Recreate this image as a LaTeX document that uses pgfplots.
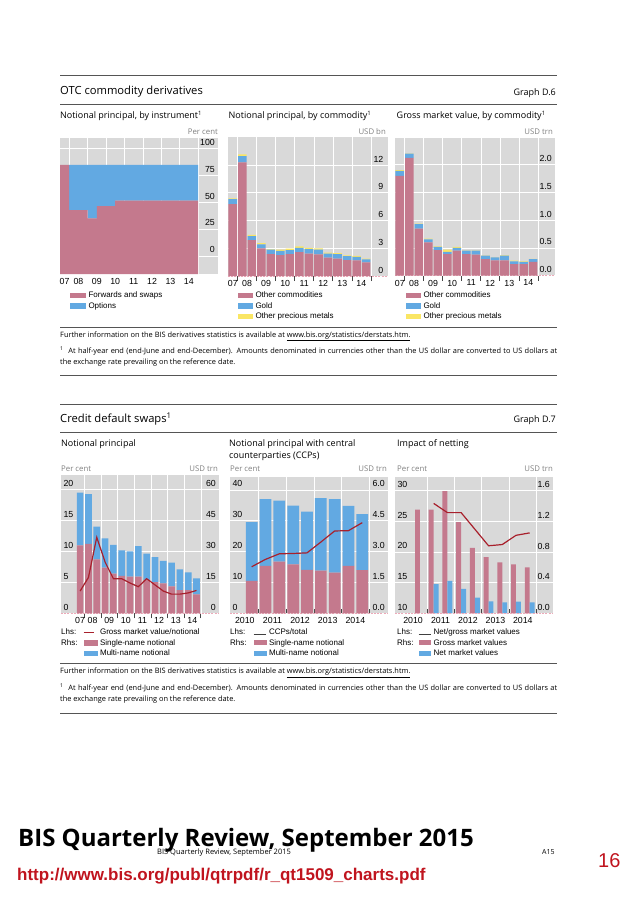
\documentclass[border=0pt]{standalone}
\usepackage{pgfplots}
\pgfplotsset{compat=1.18}
\usepackage{pgfplotstable}
\usepackage{fontspec}
\setmainfont{Open Sans}
\newfontfamily\arial{Liberation Sans}

\definecolor{bisred}{RGB}{196,121,141}
\definecolor{bisblue}{RGB}{98,169,226}
\definecolor{bisyellow}{RGB}{250,230,100}
\definecolor{bggrey}{RGB}{217,217,217}
\definecolor{linered}{RGB}{168,32,44}
\definecolor{legdark}{RGB}{64,64,64}
\definecolor{rulegrey}{RGB}{85,85,85}
\definecolor{unitgrey}{RGB}{128,128,128}
\definecolor{zeropink}{RGB}{236,170,185}
\definecolor{tickgrey}{RGB}{70,70,70}
\definecolor{footred}{RGB}{192,20,30}

\newcommand\tickfont{\arial\fontsize{8.8}{10}\selectfont}
\newcommand\legfont{\arial\fontsize{8}{9}\selectfont}
\newcommand\unitfont{\fontsize{7.8}{9}\selectfont\color{unitgrey}}
\newcommand\subfont{\fontsize{9}{11}\selectfont}
\newcommand\titlefont{\fontsize{11.2}{13}\selectfont}
\newcommand\notefont{\fontsize{7.4}{9}\selectfont}

% half-yearly, 2007 H2 .. 2014 H2 (x = 0..14)
\pgfplotstableread{
x fwd opt
0 84.3 0
1 42.6 41.7
2 42.6 41.7
3 34.9 49.4
4 46.3 38.0
5 46.3 38.0
6 51.2 33.1
7 51.2 33.1
8 51.2 33.1
9 51.2 33.1
10 51.2 33.1
11 51.2 33.1
12 51.2 33.1
13 51.2 33.1
14 51.2 33.1
}\tabInstr

\pgfplotstableread{
x other gold prec
0 7.76 0.54 0.10
1 12.30 0.67 0.18
2 3.88 0.43 0.15
3 2.98 0.43 0.15
4 2.37 0.47 0.07
5 2.26 0.47 0.11
6 2.37 0.43 0.15
7 2.59 0.46 0.15
8 2.41 0.50 0.14
9 2.34 0.50 0.14
10 1.98 0.43 0.11
11 1.87 0.50 0.11
12 1.72 0.44 0.07
13 1.69 0.39 0.11
14 1.47 0.33 0.07
}\tabNotional

\pgfplotstableread{
x other gold prec
0 1.80 0.09 0.01
1 2.12 0.08 0.005
2 0.85 0.08 0.01
3 0.60 0.055 0.015
4 0.46 0.06 0.01
5 0.39 0.04 0.04
6 0.45 0.05 0.02
7 0.39 0.06 0.005
8 0.38 0.07 0.005
9 0.30 0.06 0.005
10 0.275 0.055 0.005
11 0.275 0.085 0.01
12 0.21 0.05 0.01
13 0.21 0.04 0.01
14 0.25 0.05 0.005
}\tabGross

\pgfplotstableread{
x single multi ratio
0 32.9 25.6 3.6
1 33.7 24.1 5.8
2 26.2 15.8 12.3
3 22.2 14.2 8.3
4 19.2 14.0 5.6
5 18.2 12.3 5.6
6 17.8 12.2 4.9
7 17.8 14.8 4.3
8 16.2 12.8 5.6
9 15.1 12.1 4.6
10 14.5 11.0 3.6
11 13.1 11.5 3.1
12 11.3 10.0 3.1
13 11.3 8.6 3.3
14 9.2 7.7 3.7
}\tabCDS

% 2010 H2 .. 2014 H2 (x = 0..8)
\pgfplotstableread{
x single multi ccp
0 1.58 2.85 15.1
1 2.31 3.25 17.5
2 2.52 2.96 19.3
3 2.38 2.86 19.4
4 2.11 2.84 19.6
5 2.08 3.52 23.1
6 1.98 3.57 26.7
7 2.31 2.91 26.8
8 2.10 2.73 29.4
}\tabCCP

\pgfplotstableread{
x gross
0 1.355
1 1.355
2 1.595
3 1.19
4 0.855
5 0.735
6 0.665
7 0.64
8 0.60
}\tabGrossMV

\pgfplotstableread{
x net ratio
1 0.38 27.9
2 0.425 26.4
3 0.32 26.4
4 0.204 23.7
5 0.155 21.0
6 0.143 21.2
7 0.152 22.7
8 0.143 23.1
}\tabNet

\pgfplotsset{
  bis/.style={
    scale only axis, anchor=south west, clip=false,
    axis background/.style={fill=bggrey},
    axis line style={draw=none},
    major tick length=0pt,
    xtick pos=bottom, ytick pos=right,
    ymajorgrids, major grid style={white, line width=0.6pt},
    xminorgrids, minor grid style={white, line width=0.4pt},
    every minor tick/.style={draw=tickgrey, line width=0.6pt},
    tick align=outside,
    ticklabel style={font=\tickfont, inner sep=0pt},
    xticklabel style={anchor=north, yshift=-4pt},
    /pgf/number format/assume math mode=true,
    legend cell align=left,
    legend style={draw=none, fill=none, inner sep=0pt, outer sep=0pt,
      at={(0,0)}, anchor=north west, row sep=3pt,
      nodes={inner sep=0pt, text height=6pt, text depth=1.7pt, font=\legfont},
      /tikz/every odd column/.append style={column sep=2.5pt}},
  },
  overlay/.style={
    scale only axis, anchor=south west, clip=false,
    axis line style={draw=none}, major tick length=0pt,
    xtick=\empty, ytick pos=left,
    ticklabel style={font=\tickfont, inner sep=0pt},
    yticklabel style={anchor=base west, xshift=2.3pt, yshift=3pt},
    /pgf/number format/assume math mode=true,
  },
  rlabels/.style={yticklabel pos=right,
    yticklabel style={anchor=base east, xshift=-#1, yshift=3pt}},
  barleg/.style={legend image code/.code={\fill[##1] (0pt,-2.6pt) rectangle (#1,2.6pt);}},
  lineleg/.style={legend image code/.code={\draw[##1] (0pt,0pt) -- (#1,0pt);}},
  lowleg/.style={legend image code/.code={\draw[##1] (0pt,-2.6pt) -- (#1,-2.6pt);}},
  halfyears/.style={
    xtick={0,1.5,3.5,5.5,7.5,9.5,11.5,13.5},
    xticklabels={07,08,09,10,11,12,13,14},
    minor xtick={0.5,2.5,4.5,6.5,8.5,10.5,12.5,14.5}},
  years/.style={
    xtick={-0.5,1.5,3.5,5.5,7.5},
    xticklabels={2010,2011,2012,2013,2014},
    minor xtick={0.5,2.5,4.5,6.5,8.5}},
}

\newcommand\zeroline{\draw[zeropink, line width=0.7pt, dash pattern=on 2pt off 1.2pt]
  (rel axis cs:0,0) -- (rel axis cs:1,0);}

\begin{document}
\begin{tikzpicture}
\useasboundingbox (0pt,0pt) rectangle (638pt,-903pt);

% ---------------- Graph D.6 ----------------
\draw[rulegrey, line width=0.9pt] (60pt,-75pt) -- (557pt,-75pt);
\draw[rulegrey, line width=0.9pt] (60pt,-104.5pt) -- (557pt,-104.5pt);
\node[anchor=west, inner sep=0pt, font=\titlefont] at (60pt,-91.5pt) {OTC commodity derivatives};
\node[anchor=east, inner sep=0pt, font=\subfont] at (556pt,-93pt) {Graph D.6};

\node[anchor=west, inner sep=0pt, font=\subfont] at (60pt,-116pt) {Notional principal, by instrument\textsuperscript{1}};
\node[anchor=west, inner sep=0pt, font=\subfont] at (228.5pt,-116pt) {Notional principal, by commodity\textsuperscript{1}};
\node[anchor=west, inner sep=0pt, font=\subfont] at (396.5pt,-116pt) {Gross market value, by commodity\textsuperscript{1}};
\node[anchor=east, inner sep=0pt, font=\unitfont] at (218pt,-132pt) {Per cent};
\node[anchor=east, inner sep=0pt, font=\unitfont] at (386pt,-132pt) {USD bn};
\node[anchor=east, inner sep=0pt, font=\unitfont] at (553pt,-132pt) {USD trn};

\begin{axis}[bis, at={(60pt,-274pt)}, width=158pt, height=136pt,
  xmin=-0.5, xmax=16.67, ymin=0, ymax=126,
  ybar stacked, bar width=1,
  ytick={16.7,41.7,66.7,91.7,116.7}, yticklabels={0,25,50,75,100},
  rlabels=3pt, halfyears, minor tick length=0pt,
  legend style={xshift=10pt, yshift=-17.5pt}]
\addplot[fill=bisred, draw=none, barleg=16pt] table[x=x, y expr=\thisrow{fwd}+16.7] {\tabInstr};
\addplot[fill=bisblue, draw=none, barleg=16pt] table[x=x, y=opt] {\tabInstr};
\legend{Forwards and swaps, Options}
\end{axis}

\begin{axis}[bis, at={(228pt,-276pt)}, width=160pt, height=139pt,
  xmin=-0.5, xmax=16.3, ymin=0, ymax=15.03,
  ybar stacked, bar width=0.9,
  ytick={0,3,6,9,12}, yticklabels={0,3,6,9,12},
  rlabels=4.5pt, halfyears, minor tick length=5pt,
  legend style={xshift=10pt, yshift=-15.5pt}]
\addplot[fill=bisred, draw=none, barleg=15pt] table[x=x, y=other] {\tabNotional};
\addplot[fill=bisblue, draw=none, barleg=15pt] table[x=x, y=gold] {\tabNotional};
\addplot[fill=bisyellow, draw=none, barleg=15pt] table[x=x, y=prec] {\tabNotional};
\legend{Other commodities, Gold, Other precious metals}
\zeroline
\end{axis}

\begin{axis}[bis, at={(395pt,-275.7pt)}, width=160pt, height=137.7pt,
  xmin=-0.5, xmax=16.3, ymin=0, ymax=2.48,
  ybar stacked, bar width=0.9,
  ytick={0,0.5,1,1.5,2}, yticklabels={0.0,0.5,1.0,1.5,2.0},
  rlabels=3pt, halfyears, minor tick length=5pt,
  legend style={xshift=11pt, yshift=-15.8pt}]
\addplot[fill=bisred, draw=none, barleg=15pt] table[x=x, y=other] {\tabGross};
\addplot[fill=bisblue, draw=none, barleg=15pt] table[x=x, y=gold] {\tabGross};
\addplot[fill=bisyellow, draw=none, barleg=15pt] table[x=x, y=prec] {\tabGross};
\legend{Other commodities, Gold, Other precious metals}
\zeroline
\end{axis}

\draw[rulegrey, line width=0.9pt] (60pt,-327pt) -- (557pt,-327pt);
\node[anchor=west, inner sep=0pt, font=\notefont] at (60pt,-336.5pt)
  {Further information on the BIS derivatives statistics is available at \underline{www.bis.org/statistics/derstats.htm.}};
\node[anchor=west, inner sep=0pt, font=\notefont] at (60pt,-351pt)
  {\makebox[497pt][s]{\textsuperscript{1}\ \ At half-year end (end-June and end-December). Amounts denominated in currencies other than the US dollar are converted to US dollars at}};
\node[anchor=west, inner sep=0pt, font=\notefont] at (60pt,-363pt)
  {the exchange rate prevailing on the reference date.};
\draw[rulegrey, line width=0.9pt] (60pt,-375.5pt) -- (557pt,-375.5pt);

% ---------------- Graph D.7 ----------------
\draw[rulegrey, line width=0.9pt] (60pt,-404.5pt) -- (557pt,-404.5pt);
\draw[rulegrey, line width=0.9pt] (60pt,-432pt) -- (557pt,-432pt);
\node[anchor=west, inner sep=0pt, font=\titlefont] at (60pt,-419.5pt) {Credit default swaps\textsuperscript{1}};
\node[anchor=east, inner sep=0pt, font=\subfont] at (556pt,-420.5pt) {Graph D.7};

\node[anchor=west, inner sep=0pt, font=\subfont] at (61pt,-444.5pt) {Notional principal};
\node[anchor=west, inner sep=0pt, font=\subfont] at (229pt,-444.5pt) {Notional principal with central};
\node[anchor=west, inner sep=0pt, font=\subfont] at (229pt,-456.5pt) {counterparties (CCPs)};
\node[anchor=west, inner sep=0pt, font=\subfont] at (397pt,-444.5pt) {Impact of netting};
\foreach \l/\r in {61/218, 230/387, 397/553}{
  \node[anchor=west, inner sep=0pt, font=\unitfont] at (\l pt,-469pt) {Per cent};
  \node[anchor=east, inner sep=0pt, font=\unitfont] at (\r pt,-469pt) {USD trn};
}

% Notional principal
\begin{axis}[bis, at={(61pt,-613.3pt)}, width=158pt, height=138.3pt,
  xmin=-2.3, xmax=16.7, ymin=0, ymax=67.1,
  ybar stacked, bar width=0.8,
  ytick={0,15,30,45,60}, yticklabels={0,15,30,45,60},
  rlabels=3pt, halfyears, minor tick length=5pt,
  legend style={xshift=22pt, yshift=-15.2pt}]
\addlegendimage{draw=linered, line width=1.2pt, lineleg=10pt}
\addplot[fill=bisred, draw=none, barleg=14pt] table[x=x, y=single] {\tabCDS};
\addplot[fill=bisblue, draw=none, barleg=14pt] table[x=x, y=multi] {\tabCDS};
\legend{Gross market value/notional, Single-name notional, Multi-name notional}
\zeroline
\end{axis}
\begin{axis}[overlay, at={(61pt,-613.3pt)}, width=158pt, height=138.3pt,
  xmin=-2.3, xmax=16.7, ymin=0, ymax=22.37,
  ytick={0,5,10,15,20}, yticklabels={0,5,10,15,20}]
\addplot[linered, line width=1.2pt, mark=none] table[x=x, y=ratio] {\tabCDS};
\end{axis}

% CCPs
\begin{axis}[bis, at={(230pt,-613.3pt)}, width=158pt, height=136.3pt,
  xmin=-1.57, xmax=9.86, ymin=0, ymax=6.63,
  ybar stacked, bar width=0.85,
  ytick={0,1.5,3,4.5,6}, yticklabels={0.0,1.5,3.0,4.5,6.0},
  rlabels=3pt, years, minor tick length=4pt, tick align=inside,
  legend style={xshift=23pt, yshift=-15pt}]
\addlegendimage{draw=legdark, line width=1.2pt, lowleg=12pt}
\addplot[fill=bisred, draw=none, barleg=13pt] table[x=x, y=single] {\tabCCP};
\addplot[fill=bisblue, draw=none, barleg=13pt] table[x=x, y=multi] {\tabCCP};
\legend{CCPs/total, Single-name notional, Multi-name notional}
\zeroline
\end{axis}
\begin{axis}[overlay, at={(230pt,-613.3pt)}, width=158pt, height=136.3pt,
  xmin=-1.57, xmax=9.86, ymin=0, ymax=44.2,
  ytick={0,10,20,30,40}, yticklabels={0,10,20,30,40}]
\addplot[linered, line width=1.2pt, mark=none] table[x=x, y=ccp] {\tabCCP};
\end{axis}

% Impact of netting
\begin{axis}[bis, at={(395pt,-613.3pt)}, width=158pt, height=136.3pt,
  xmin=-1.82, xmax=9.7, ymin=0, ymax=1.78,
  ytick={0,0.4,0.8,1.2,1.6}, yticklabels={0.0,0.4,0.8,1.2,1.6},
  rlabels=3pt, years, minor tick length=4.5pt, tick align=inside,
  legend style={xshift=23pt, yshift=-15pt}]
\addlegendimage{draw=legdark, line width=1.2pt, lowleg=12pt}
\addplot[ybar, bar width=0.36, bar shift=-0.18, fill=bisred, draw=none, barleg=12pt] table[x=x, y=gross] {\tabGrossMV};
\addplot[ybar, bar width=0.36, bar shift=0.18, fill=bisblue, draw=none, barleg=12pt] table[x=x, y=net] {\tabNet};
\legend{Net/gross market values, Gross market values, Net market values}
\zeroline
\end{axis}
\begin{axis}[overlay, at={(395pt,-613.3pt)}, width=158pt, height=136.3pt,
  xmin=-1.82, xmax=9.7, ymin=10, ymax=32.2,
  ytick={10,15,20,25,30}, yticklabels={10,15,20,25,30}]
\addplot[linered, line width=1.2pt, mark=none] table[x=x, y=ratio] {\tabNet};
\end{axis}

\foreach \l in {61, 230, 397}{
  \node[anchor=west, inner sep=0pt, font=\legfont] at (\l pt,-632pt) {Lhs:};
  \node[anchor=west, inner sep=0pt, font=\legfont] at (\l pt,-643pt) {Rhs:};
}

\draw[rulegrey, line width=0.9pt] (60pt,-663.5pt) -- (557pt,-663.5pt);
\node[anchor=west, inner sep=0pt, font=\notefont] at (60pt,-673pt)
  {Further information on the BIS derivatives statistics is available at \underline{www.bis.org/statistics/derstats.htm.}};
\node[anchor=west, inner sep=0pt, font=\notefont] at (60pt,-688pt)
  {\makebox[497pt][s]{\textsuperscript{1}\ \ At half-year end (end-June and end-December). Amounts denominated in currencies other than the US dollar are converted to US dollars at}};
\node[anchor=west, inner sep=0pt, font=\notefont] at (60pt,-700pt)
  {the exchange rate prevailing on the reference date.};
\draw[rulegrey, line width=0.9pt] (60pt,-713pt) -- (557pt,-713pt);

% ---------------- footer ----------------
\node[anchor=base west, inner sep=0pt, font=\bfseries\fontsize{24}{28}\selectfont] at (18pt,-846pt) {BIS Quarterly Review, September 2015};
\node[anchor=base west, inner sep=0pt, font=\fontsize{7.5}{8}\selectfont] at (157pt,-854.5pt) {BIS Quarterly Review, September 2015};
\node[anchor=base west, inner sep=0pt, font=\fontsize{7}{8}\selectfont] at (542pt,-854.5pt) {A15};
\node[anchor=base west, inner sep=0pt, font=\arial\fontsize{20}{22}\selectfont, text=footred] at (598pt,-867pt) {16};
\node[anchor=base west, inner sep=0pt, font=\arial\bfseries\fontsize{17}{19}\selectfont, text=footred] at (17pt,-880pt) {http://www.bis.org/publ/qtrpdf/r\_qt1509\_charts.pdf};
\end{tikzpicture}
\end{document}
